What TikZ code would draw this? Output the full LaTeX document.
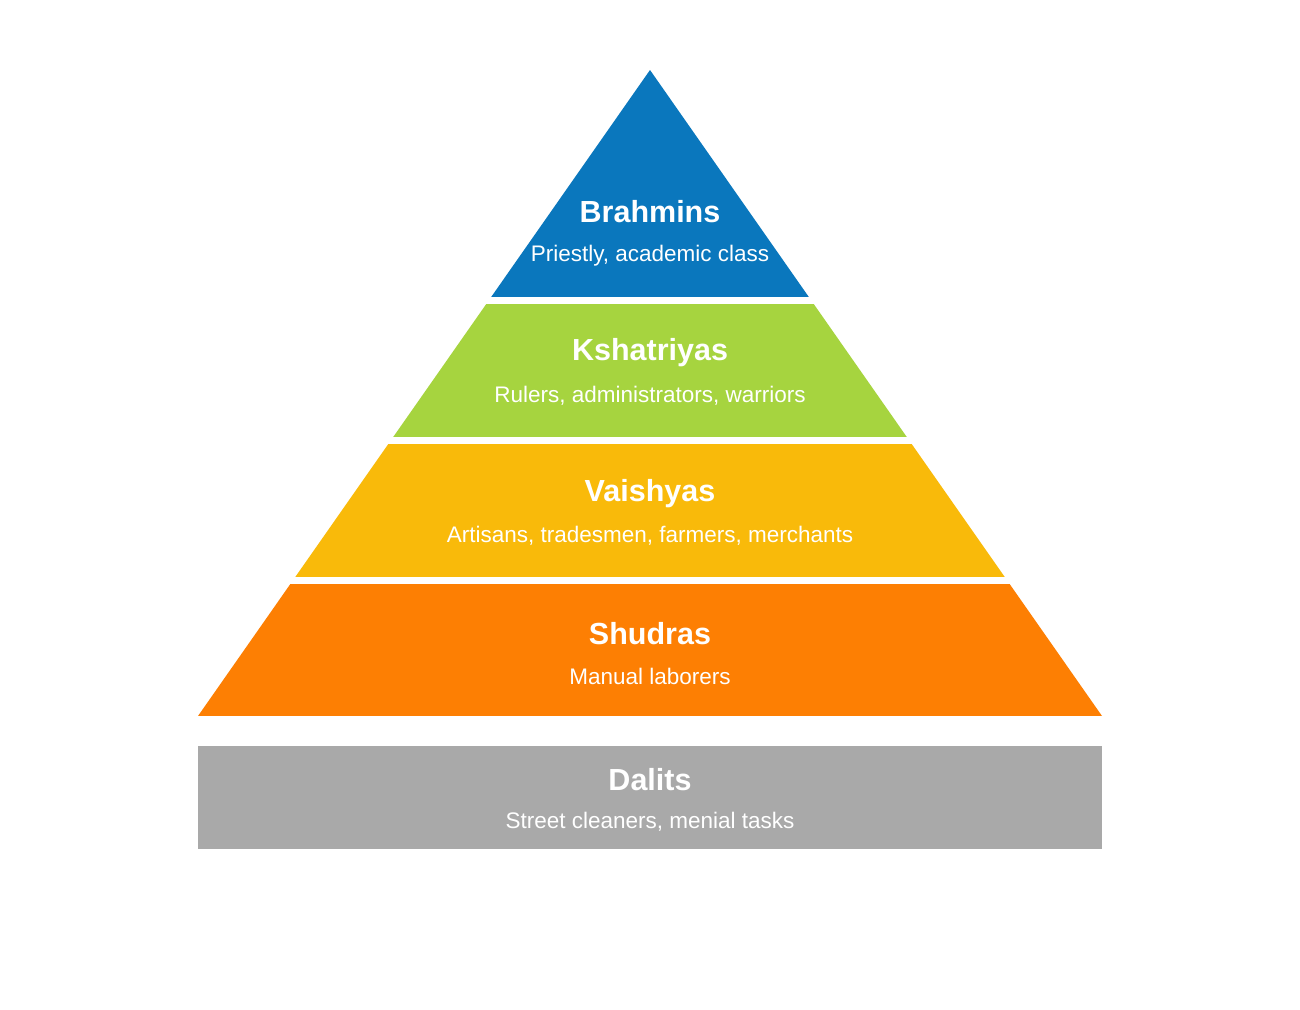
\documentclass[tikz,border=0pt]{standalone}
\usepackage{fontspec}
\setmainfont{Liberation Sans}
\definecolor{cblue}{HTML}{0A77BD}
\definecolor{cgreen}{HTML}{A6D43F}
\definecolor{cyellow}{HTML}{F9BA0A}
\definecolor{corange}{HTML}{FD7F03}
\definecolor{cgray}{HTML}{A9A9A9}
\tikzset{ttl/.style={text=white,font=\fontsize{30.5}{33}\selectfont\bfseries},
 sub/.style={text=white,font=\fontsize{22.5}{25}\selectfont}}
\begin{document}
\begin{tikzpicture}[x=1pt,y=-1pt]
\useasboundingbox (0,0) rectangle (1300,1009);
\fill[white] (0,0) rectangle (1300,1009);
\begin{scope}
\clip (650,70) -- (1102,716) -- (198,716) -- cycle;
\fill[cblue] (0,60) rectangle (1300,297);
\fill[cgreen] (0,304) rectangle (1300,437);
\fill[cyellow] (0,444) rectangle (1300,577);
\fill[corange] (0,584) rectangle (1300,716);
\end{scope}
\fill[cgray] (198,746) rectangle (1102,849);
\node[ttl] (b) at (650,212) {Brahmins};
\node[sub] (bs) at (650,256) {Priestly, academic class};
\node[ttl] (k) at (650,353) {Kshatriyas};
\node[sub] (ks) at (650,396) {Rulers, administrators, warriors};
\node[ttl] (v) at (650,494) {Vaishyas};
\node[sub] (vs) at (650,536) {Artisans, tradesmen, farmers, merchants};
\node[ttl] (s) at (650,634) {Shudras};
\node[sub] (ss) at (650,676) {Manual laborers};
\node[ttl] (d) at (650,780) {Dalits};
\node[sub] (ds) at (650,822) {Street cleaners, menial tasks};
\end{tikzpicture}
\end{document}
